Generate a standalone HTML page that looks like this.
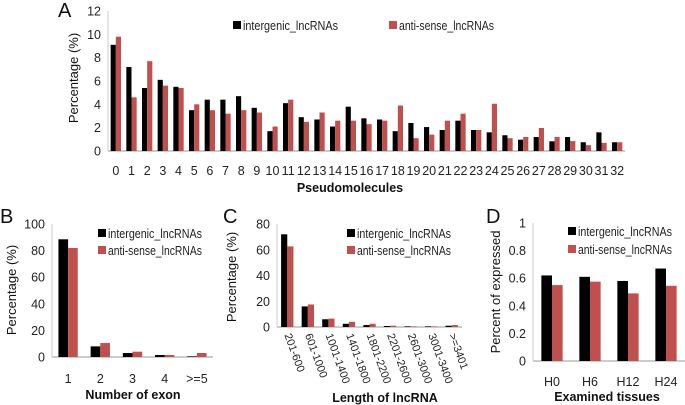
<!DOCTYPE html>
<html><head><meta charset="utf-8"><style>
body{margin:0;background:#fff}svg{display:block;font-family:"Liberation Sans",sans-serif}
</style></head><body>
<svg id="s" width="685" height="405"></svg>
<script>
const aCats=[];for(let i=0;i<=32;i++)aCats.push(String(i));
const aInter=[9.1,7.2,5.4,6.1,5.5,3.5,4.4,4.4,4.7,3.7,1.7,4.1,2.9,2.7,2.1,3.8,2.8,2.7,1.7,2.4,2.05,1.8,2.6,1.8,1.6,1.35,0.97,1.2,0.83,1.2,0.75,1.6,0.75];
const aAnti=[9.8,4.6,7.7,5.6,5.4,4.0,3.5,3.2,3.5,3.3,2.1,4.4,2.5,3.3,2.6,2.6,2.3,2.6,3.9,1.1,1.4,2.6,3.2,1.8,4.05,1.1,1.2,1.97,1.2,0.85,0.5,0.7,0.75];
const aTicks=[0,2,4,6,8,10,12];
const bCats=["1","2","3","4",">=5"];
const bInter=[88.5,8,3,1.5,0.5];
const bAnti=[82,10.5,4,1.5,3];
const bTicks=[0,20,40,60,80,100];
const cCats=["201-600","601-1000","1001-1400","1401-1800","1801-2200","2201-2600","2601-3000","3001-3400",">=3401"];
const cInter=[72,16,6,2.5,1.5,0.8,0.5,0.5,1];
const cAnti=[62.6,17.5,6.5,4,2.5,1,0.5,0.5,1.5];
const cTicks=[0,20,40,60,80];
const dCats=["H0","H6","H12","H24"];
const dInter=[0.62,0.61,0.58,0.67];
const dAnti=[0.55,0.575,0.49,0.545];
const dTicks=[0,0.2,0.4,0.6,0.8,1];

const S=document.getElementById('s');const NS='http://www.w3.org/2000/svg';
function mk(t,a,txt){const e=document.createElementNS(NS,t);for(const k in a)e.setAttribute(k,a[k]);if(txt!==undefined)e.textContent=txt;S.appendChild(e);return e;}
function chart(p){
  const y=v=>p.y0-(v-p.t[0])/(p.t[p.t.length-1]-p.t[0])*(p.y0-p.y1);
  const w=(p.x1-p.x0)/p.cats.length;
  let e=mk('line',{x1:p.x0,x2:p.x1,y1:p.y0,y2:p.y0,stroke:'#999','stroke-width':1});
  
  e=mk('line',{x1:p.x0,x2:p.x0,y1:p.y0,y2:p.y1,stroke:'#ccc','stroke-width':1});
  
  p.t.forEach(t=>{e=mk('text',{x:p.x0-7,y:y(t)+4.5,'text-anchor':'end','font-size':12.5,fill:'#222'},String(t));
    });
  const bw=w*p.bf;
  p.cats.forEach((c,i)=>{const cx=p.x0+w*(i+0.5);
    e=mk('rect',{x:cx-bw,y:y(p.s1[i]),width:bw,height:p.y0-y(p.s1[i]),fill:'#000'});
    
    e=mk('rect',{x:cx,y:y(p.s2[i]),width:bw,height:p.y0-y(p.s2[i]),fill:'#c0504d'});
    
    if(p.rot){e=mk('text',{x:cx-3,y:p.ly,'font-size':11,fill:'#222',transform:`rotate(70 ${cx-3} ${p.ly})`},c);}
    else e=mk('text',{x:cx,y:p.ly,'text-anchor':'middle','font-size':12.5,fill:'#222'},c);
    });
  e=mk('text',{x:p.tx,y:p.ty,'text-anchor':'middle','font-size':12.5,'font-weight':'bold',fill:'#111'},p.xt);
  
  e=mk('text',{x:0,y:0,'text-anchor':'middle','font-size':13,fill:'#111',transform:`translate(${p.yx},${p.yy}) rotate(-90)`},p.yt);
  
  e=mk('text',{x:p.lx,y:p.lyy,'font-size':20,fill:'#111'},p.L);
  
  [[p.g1,'#000','intergenic_lncRNAs'],[p.g2,'#c0504d','anti-sense_lncRNAs']].forEach(g=>{
    e=mk('rect',{x:g[0][0],y:g[0][1]-4,width:8,height:8,fill:g[1]});
    
    e=mk('text',{x:g[0][0]+10,y:g[0][1]+5,'font-size':13,fill:'#222',textLength:p.lw,lengthAdjust:'spacingAndGlyphs'},g[2]);
    });
}
chart({id:'a',cats:aCats,s1:aInter,s2:aAnti,t:aTicks,x0:108,x1:625,y0:151,y1:11,bf:0.33,ly:175,lw:95,
  xt:'Pseudomolecules',tx:350,ty:192,yt:'Percentage (%)',yx:78,yy:78,L:'A',lx:58,lyy:17,g1:[233,25],g2:[389,25]});
chart({id:'b',cats:bCats,s1:bInter,s2:bAnti,t:bTicks,x0:52,x1:213,y0:357,y1:224,bf:0.3,ly:383,lw:94,
  xt:'Number of exon',tx:133,ty:399,yt:'Percentage (%)',yx:16,yy:290,L:'B',lx:0,lyy:223,g1:[98,233],g2:[98,250]});
chart({id:'c',cats:cCats,s1:cInter,s2:cAnti,t:cTicks,x0:277,x1:462,y0:327,y1:224,bf:0.3,ly:335,rot:true,lw:94,
  xt:'Length of lncRNA',tx:385,ty:402,yt:'Percentage (%)',yx:236,yy:277,L:'C',lx:223,lyy:223,g1:[347,233],g2:[347,250]});
chart({id:'d',cats:dCats,s1:dInter,s2:dAnti,t:dTicks,x0:533,x1:685,y0:361,y1:223,bf:0.28,ly:386,lw:94,
  xt:'Examined tissues',tx:607,ty:401,yt:'Percent of expressed',yx:500,yy:292,L:'D',lx:486,lyy:223,g1:[568,231],g2:[568,249]});
</script>
</body></html>
